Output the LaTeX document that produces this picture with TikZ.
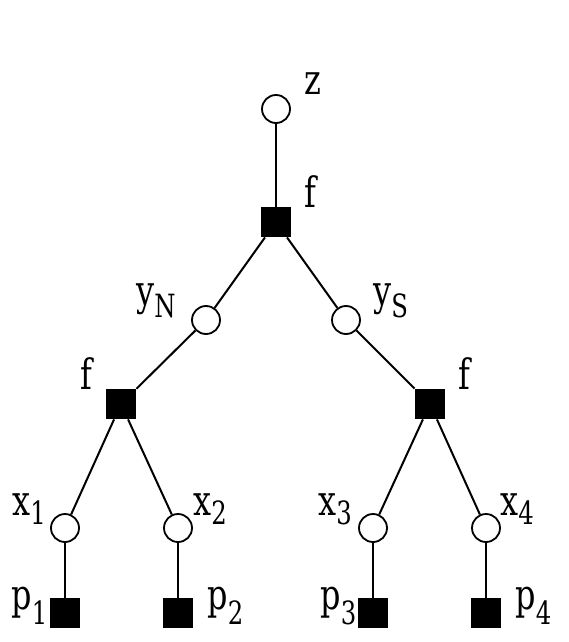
\documentclass[tikz,border=0pt]{standalone}
\usepackage{fontspec}
\setmainfont[FakeStretch=0.76]{DejaVu Serif}
\usepackage{tikz}
\usetikzlibrary{shapes.geometric}
\newcommand{\lbl}[3]{#1\raisebox{-#3}{\fontsize{16}{16}\selectfont #2}}
\tikzset{
    varnode/.style = {circle, draw, fill = white, line width = 0.9pt,
        minimum size = 14pt, inner sep = 0pt},
    facnode/.style = {rectangle, fill = black, minimum size = 15pt,
        inner sep = 0pt},
    tag/.style = {anchor = base west, inner sep = 0pt,
        font = \fontsize{21}{25}\selectfont},
    edge/.style = {line width = 1pt},
    thinedge/.style = {line width = 0.6pt}
}

\begin{document}
\begin{tikzpicture}[x = 0.5pt, y = -0.5pt]
            \useasboundingbox (0, 0) rectangle (568, 642);
            \node [varnode] (z) at (276, 109) {};
            \node [facnode] (f0) at (276, 222) {};
            \node [varnode] (yN) at (206, 320) {};
            \node [varnode] (yS) at (346, 320) {};
            \node [facnode] (fN) at (121, 404) {};
            \node [facnode] (fS) at (430, 404) {};
            \node [varnode] (x1) at (65, 528) {};
            \node [varnode] (x2) at (178, 528) {};
            \node [varnode] (x3) at (373, 528) {};
            \node [varnode] (x4) at (486, 528) {};
            \node [facnode] (p1) at (65, 613) {};
            \node [facnode] (p2) at (178, 613) {};
            \node [facnode] (p3) at (373, 613) {};
            \node [facnode] (p4) at (486, 613) {};
            \draw [edge] (z) -- (f0);
            \draw [edge] (f0) -- (yN);
            \draw [edge] (f0) -- (yS);
            \draw [edge] (yN) -- (fN);
            \draw [edge] (yS) -- (fS);
            \draw [edge] (fN) -- (x1);
            \draw [edge] (fN) -- (x2);
            \draw [edge] (fS) -- (x3);
            \draw [edge] (fS) -- (x4);
            \draw [edge] (x1) -- (p1);
            \draw [edge] (x2) -- (p2);
            \draw [thinedge] (x3) -- (p3);
            \draw [thinedge] (x4) -- (p4);
            \node [tag] (tz) at (304, 95) {z};
            \node [tag] (tf0) at (304, 207) {f};
            \node [tag] (tyN) at (136, 305) {\lbl{y}{N}{6pt}};
            \node [tag] (tyS) at (373, 305) {\lbl{y}{S}{6pt}};
            \node [tag] (tfN) at (80, 389) {f};
            \node [tag] (tfS) at (458, 389) {f};
            \node [tag] (tx1) at (12, 515) {\lbl{x}{1}{4.5pt}};
            \node [tag] (tx2) at (193, 515) {\lbl{x}{2}{4.5pt}};
            \node [tag] (tx3) at (318, 515) {\lbl{x}{3}{4.5pt}};
            \node [tag] (tx4) at (500, 515) {\lbl{x}{4}{4.5pt}};
            \node [tag] (tp1) at (11, 609) {\lbl{p}{1}{7.5pt}};
            \node [tag] (tp2) at (207, 609) {\lbl{p}{2}{7.5pt}};
            \node [tag] (tp3) at (320, 609) {\lbl{p}{3}{7.5pt}};
            \node [tag] (tp4) at (515, 609) {\lbl{p}{4}{7.5pt}};
        \end{tikzpicture}
\end{document}
